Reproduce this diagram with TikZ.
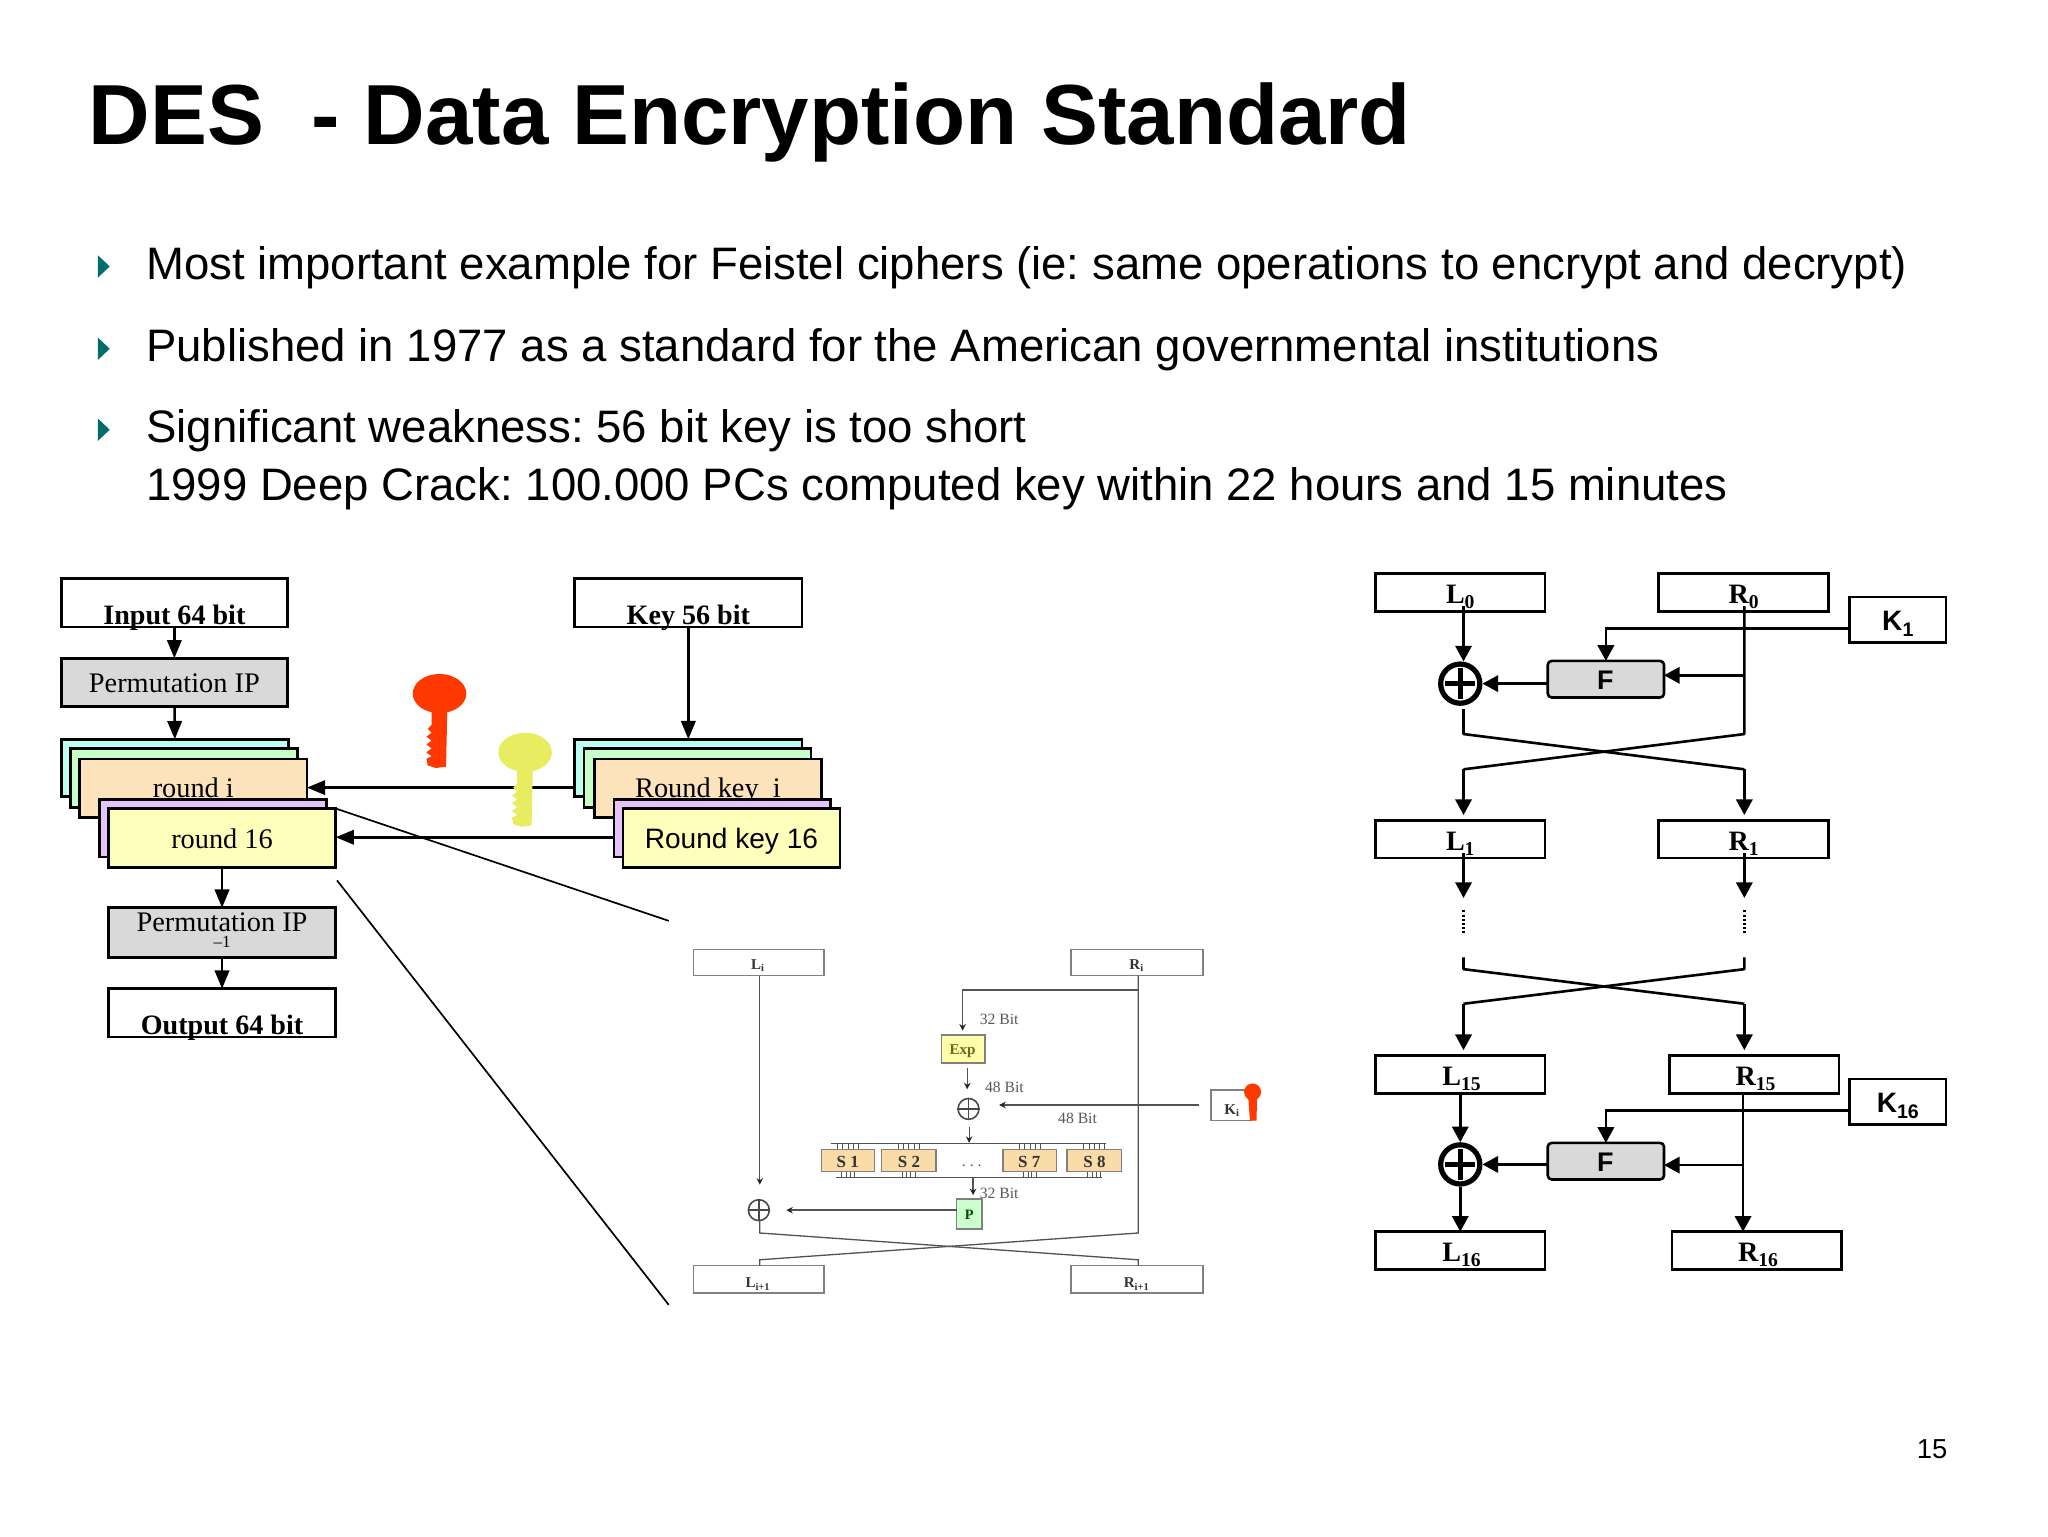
\documentclass[tikz,border=0pt]{standalone}
\usepackage{fontspec}
\usetikzlibrary{arrows.meta,calc}
\setmainfont{Liberation Sans}
\newfontfamily\tms{Liberation Serif}
\newcommand\fz[1]{\fontsize{#1}{#1}\selectfont}
\newcommand\sbs[3]{\raisebox{-#2pt}{\fz{#1}#3}}
% \dbox{name}{x1}{y1}{x2}{y2}{style}
\newcommand\dbox[6]{\node[bx,#6,minimum width={(#4-#2)*1pt},minimum height={(#5-#3)*1pt}] (#1) at ({(#2+#4)/2},{(#3+#5)/2}) {};}
% \dtxt{name}{x}{y}{style}{text}  (x centre, y baseline)
\newcommand\dtxt[5]{\node[tx,#4] (#1) at (#2,#3) {#5};}
% key: centre, colour
\newcommand\dkey[3]{\begin{scope}[shift={(#1,#2)}]
\fill[#3] (0,0) ellipse [x radius=20.5,y radius=15];
\fill[#3] (6,10) -- (5,56) -- (-3,57) -- (-9,55) -- (-10,50) -- (-6,48) -- (-10,45) -- (-6,42) -- (-10,39) -- (-6,36) -- (-10,33) -- (-6,30) -- (-9,27) -- (-6,24) -- (-6,10) -- cycle;
\end{scope}}
\newcommand\bul[1]{\fill[teal!85!black] (75,#1-8.5) -- (84,#1) -- (75,#1+8.5) -- cycle;}
\definecolor{cy}{HTML}{BCFFF0}\definecolor{gn}{HTML}{C8FFC8}\definecolor{og}{HTML}{FCE3BC}
\definecolor{pu}{HTML}{E4C4FA}\definecolor{ye}{HTML}{FFFFBC}\definecolor{gy}{HTML}{D9D9D9}
\definecolor{mg}{HTML}{808080}\definecolor{sb}{HTML}{F9DCA8}
\definecolor{kr}{HTML}{FF3800}\definecolor{ky}{HTML}{E8EC60}
\tikzset{
 x=1pt,y=-1pt,
 bx/.style={draw=black,line width=2pt,inner sep=0pt,outer sep=0pt,rectangle,fill=white},
 tx/.style={inner sep=0pt,outer sep=0pt,anchor=base,text=black},
 ser/.style={font=\tms\fz{21.7}},
 serb/.style={font=\tms\bfseries\fz{21.5}},
 sanb/.style={font=\bfseries\fz{20.6}},
 sbold/.style={font=\tms\bfseries\fz{21.5}},
 a1/.style={line width=2pt,-{Triangle[length=14pt,width=11pt]}},
 a2/.style={line width=2pt,-{Triangle[length=12pt,width=12.5pt]}},
 pl/.style={line width=2pt},
 zm/.style={line width=1.3pt},
 mb/.style={draw=mg,line width=1.1pt,fill=white},
 ml/.style={draw=black!68,line width=1pt},
 ma/.style={draw=black!68,line width=1pt,-{Stealth[length=5pt,width=5pt,black!85]}},
 mt/.style={font=\tms\fz{12},text=black!65},
 mtb/.style={font=\tms\bfseries\fz{11.5},text=black!80},
 st/.style={font=\tms\bfseries\fz{13},text=black!80},
}
\begin{document}
\frenchspacing
\begin{tikzpicture}
\useasboundingbox (0,0) rectangle (1568,1176);
\fill[white] (0,0) rectangle (1568,1176);
% title & text
\node[tx,anchor=base west,font=\bfseries\fz{65.3}] (title) at (68,110.5) {DES\ \ - Data Encryption Standard};
\bul{204}\bul{267}\bul{329}
\node[tx,anchor=base west,font=\fz{34.85}] (b1) at (112,214) {Most important example for Feistel ciphers (ie: same operations to encrypt and decrypt)};
\node[tx,anchor=base west,font=\fz{34.85}] (b2) at (112,276.5) {Published in 1977 as a standard for the American governmental institutions};
\node[tx,anchor=base west,font=\fz{34.85}] (b3) at (112,339) {Significant weakness: 56 bit key is too short};
\node[tx,anchor=base west,font=\fz{34.85}] (b4) at (112,383) {1999 Deep Crack: 100.000 PCs computed key within 22 hours and 15 minutes};
\node[tx,anchor=base east,font=\fz{21}] (pg) at (1491,1117) {15};
% ---- left diagram
\dbox{inp}{47}{443}{220}{480}{}
\dbox{perm}{47}{504}{220}{541}{fill=gy}
\dbox{ci}{47}{566}{221}{610}{fill=cy}
\dbox{gi}{54}{573}{228}{618}{fill=gn}
\dbox{ri}{61}{581}{235}{626}{fill=og}
\dtxt{rit}{148}{610.5}{ser}{round i}
\dbox{pi}{76}{612}{250}{656}{fill=pu}
\dbox{r16}{83}{619}{257}{664}{fill=ye}
\dtxt{r16t}{170}{649.5}{ser}{round 16}
\dbox{permi}{83}{695}{257}{733}{fill=gy}
\dbox{out}{83}{757}{257}{794}{}
\dtxt{inpt}{133.5}{478}{serb}{Input 64 bit}
\dtxt{permt}{133.5}{530.5}{ser}{Permutation IP}
\dtxt{permit}{170}{713}{ser}{Permutation IP}
\dtxt{permis}{170}{725.5}{font=\tms\fz{13}}{\textendash1}
\dtxt{outt}{170}{792}{serb}{Output 64 bit}
\dbox{key}{440}{443}{614}{480}{}
\dbox{ck}{440}{566}{614}{610}{fill=cy}
\dbox{gk}{447}{573}{621}{618}{fill=gn}
\dbox{rk}{455}{581}{629}{626}{fill=og}
\dtxt{rkt}{542}{610.5}{ser}{Round key\ \ i}
\dbox{pk}{470}{612}{636}{656}{fill=pu}
\dbox{k16}{477}{619}{643}{664}{fill=ye}
\dtxt{k16t}{560}{649.5}{font=\fz{21.5}}{Round key 16}
\dtxt{keyt}{527}{478}{serb}{Key 56 bit}
\draw[a1] (inp) -- (perm);
\draw[a1] (perm) -- (ci);
\draw[a1] (r16) -- (permi);
\draw[a1] (permi) -- (out);
\draw[a1] (key) -- (ck);
\draw[a1] (ck.west |- 0,603) -- (ri.east |- 0,603);
\draw[a1] (pk.west |- 0,641) -- (r16.east |- 0,641);
\dkey{336.5}{531}{kr}
\dkey{402}{576}{ky}
\coordinate (z1) at (512,705);\coordinate (z2) at (512,999);\coordinate (z0) at (258,674);
\draw[zm] (r16.north east) -- (z1);
\draw[zm] (z0) -- (z2);
% ---- middle diagram
\dbox{Li}{531}{727}{631}{747}{mb}
\dbox{Ri}{820}{727}{921}{747}{mb}
\dbox{Lj}{531}{969}{631}{990}{mb}
\dbox{Rj}{820}{969}{921}{990}{mb}
\dtxt{Lit}{580}{742}{mtb}{L\sbs{8}{2}{i}}
\dtxt{Rit}{870}{742}{mtb}{R\sbs{8}{2}{i}}
\dtxt{Ljt}{580}{986}{mtb}{L\sbs{8}{2}{i+1}}
\dtxt{Rjt}{870}{986}{mtb}{R\sbs{8}{2}{i+1}}
\dbox{Exp}{721}{792.5}{754}{814}{mb,fill=ye!90!yellow}
\dtxt{Expt}{737}{807}{font=\tms\bfseries\fz{11.5},text=olive!70!black}{Exp}
\dbox{Pb}{732.5}{918}{752}{941}{mb,fill=green!20}
\dtxt{Pt}{742}{934}{font=\tms\bfseries\fz{11},text=green!30!black}{P}
\dbox{S1}{629}{880}{669.5}{897}{mb,fill=sb}
\dbox{S2}{675}{880}{716.5}{897}{mb,fill=sb}
\dbox{S7}{768}{880}{809}{897}{mb,fill=sb}
\dbox{S8}{817}{880}{858.5}{897}{mb,fill=sb}
\dtxt{S1t}{649}{894}{st}{S 1}
\dtxt{S2t}{696}{894}{st}{S 2}
\dtxt{S7t}{788}{894}{st}{S 7}
\dtxt{S8t}{838}{894}{st}{S 8}
\dtxt{dots}{744}{893}{mt}{. . .}
\foreach \a in {S1,S2,S7,S8}{
 \foreach \d in {-8,-4,0,4,8}{\draw[ml,line width=.6pt] ($(\a.north)+(\d,-4.5)$) -- ($(\a.north)+(\d,0)$);}
 \foreach \d in {-5,-1.5,1.5,5}{\draw[ml,line width=.6pt] ($(\a.south)+(\d,0)$) -- ($(\a.south)+(\d,4.5)$);}
}
\coordinate (bt) at (742,875.6);\coordinate (bb) at (745,901.5);
\draw[ml] (636,875.6) -- (847,875.6);
\draw[ml] (640,901.5) -- (844,901.5);
\node[draw=black!72,line width=1.2pt,circle,minimum size=16pt,inner sep=0pt] (xa) at (741.5,849) {};
\node[draw=black!72,line width=1.2pt,circle,minimum size=16pt,inner sep=0pt] (xb) at (581,926.5) {};
\foreach \a in {xa,xb}{\draw[black!72,line width=1.1pt] (\a.north) -- (\a.south) (\a.west) -- (\a.east);}
\dbox{Ki}{927}{834.5}{958}{858}{mb}
\dtxt{Kit}{943}{853}{mtb}{K\sbs{8}{2}{i}}
\fill[kr] (959,836) circle [radius=6.5];
\fill[kr] (955.5,838) -- (962.5,838) -- (962,858) -- (957,858) -- cycle;
\coordinate (rm) at (871.5,944);\coordinate (lm) at (581.7,944);\coordinate (rl) at (871.5,964.5);\coordinate (ll) at (581.7,964.5);
\draw[ma] (Li.south -| lm) -- (581.7,907);
\draw[ml] (Ri.south -| rm) -- (rm) -- (ll) -- (Lj.north -| ll);
\draw[ml] (581.7,935) -- (lm) -- (rl) -- (Rj.north -| rl);
\draw[ma] (871.5,758) -- (737,758) -- (737,789);
\draw[ma] (740.5,818) -- (740.5,834);
\draw[ma] (918,846) -- (765,846);
\draw[ma] (742,863) -- (742,875);
\draw[ma] (bb) -- (745,915);
\draw[ma] (Pb.west |- 0,926.5) -- (602,926.5);
\dtxt{m1}{765}{784.5}{mt}{32 Bit}
\dtxt{m2}{769}{836.5}{mt}{48 Bit}
\dtxt{m3}{825}{860.5}{mt}{48 Bit}
\dtxt{m4}{765}{917.5}{mt}{32 Bit}
% ---- right diagram
\coordinate (lc) at (1120.5,0);\coordinate (rc) at (1335.5,0);
\dbox{L0}{1053}{439}{1183}{468}{}
\dbox{R0}{1270}{439}{1400}{468}{}
\dbox{K1}{1416}{457}{1490}{492}{}
\dbox{L1}{1053}{628}{1183}{657}{}
\dbox{R1}{1270}{628}{1400}{657}{}
\dbox{L15}{1053}{808}{1183}{837}{}
\dbox{R15}{1278}{808}{1408}{837}{}
\dbox{K16}{1416}{826}{1490}{861}{}
\dbox{L16}{1053}{943}{1183}{972}{}
\dbox{R16}{1280}{943}{1410}{972}{}
\dbox{F1}{1185}{506}{1274}{534}{fill=gy,rounded corners=3pt}
\dbox{F2}{1185}{875}{1274}{903}{fill=gy,rounded corners=3pt}
\dtxt{L0t}{1118}{462}{sbold}{L\sbs{15}{4}{0}}
\dtxt{R0t}{1335}{462}{sbold}{R\sbs{15}{4}{0}}
\dtxt{L1t}{1118}{651}{sbold}{L\sbs{15}{4}{1}}
\dtxt{R1t}{1335}{651}{sbold}{R\sbs{15}{4}{1}}
\dtxt{L15t}{1119}{831}{sbold}{L\sbs{15}{4}{15}}
\dtxt{R15t}{1344}{831}{sbold}{R\sbs{15}{4}{15}}
\dtxt{L16t}{1119}{966}{sbold}{L\sbs{15}{4}{16}}
\dtxt{R16t}{1346}{966}{sbold}{R\sbs{15}{4}{16}}
\dtxt{K1t}{1453}{483}{font=\bfseries\fz{21.5}}{K\sbs{15}{4}{1}}
\dtxt{K16t}{1453}{852}{font=\bfseries\fz{21.5}}{K\sbs{15}{4}{16}}
\dtxt{F1t}{1229}{528}{sanb}{F}
\dtxt{F2t}{1229}{897}{sanb}{F}
\node[draw=black,line width=4pt,circle,minimum size=30pt,inner sep=0pt] (x1) at (1118,523.4) {};
\node[draw=black,line width=4pt,circle,minimum size=30pt,inner sep=0pt] (x2) at (1118,891.5) {};
\foreach \a in {x1,x2}{\draw[line width=3.5pt] ($(\a.center)+(-11.5,0)$) -- ($(\a.center)+(11.5,0)$) ($(\a.center)+(0,-12)$) -- ($(\a.center)+(0,12)$);}
% round 1
\draw[a2] ($(L0.south -| lc)+(0,-4)$) -- (x1.north -| lc);
\draw[a2] (F1.west |- x1) -- (x1.east);
\draw[a2] (K1.west |- 0,481) -- (F1.north |- 0,481) -- (F1.north);
\draw[a2] (rc |- 0,517) -- (F1.east |- 0,517);
\coordinate (c1) at (1120.5,562);\coordinate (c2) at (1335.5,562);\coordinate (c3) at (1120.5,589);\coordinate (c4) at (1335.5,589);
\draw[pl,line join=round] ($(R0.south -| rc)+(0,-4)$) -- (c2) -- (c3);
\draw[pl,line join=round] (1120.5,543) -- (c1) -- (c4);
\draw[a2] (c3) -- ($(L1.north -| lc)+(0,-4)$);
\draw[a2] (c4) -- ($(R1.north -| rc)+(0,-4)$);
\draw[a2] ($(L1.south -| lc)+(0,-4)$) -- (lc |- 0,687.5);
\draw[a2] ($(R1.south -| rc)+(0,-4)$) -- (rc |- 0,687.5);
\draw[line width=2pt,dash pattern=on 1.5pt off 1.7pt] (lc |- 0,697) -- (lc |- 0,715);
\draw[line width=2pt,dash pattern=on 1.5pt off 1.7pt] (rc |- 0,697) -- (rc |- 0,715);
\coordinate (d1) at (1120.5,742);\coordinate (d2) at (1335.5,742);\coordinate (d3) at (1120.5,768.5);\coordinate (d4) at (1335.5,768.5);
\draw[pl,line join=round] (lc |- 0,733) -- (d1) -- (d4);
\draw[pl,line join=round] (rc |- 0,733) -- (d2) -- (d3);
\draw[a2] (d3) -- ($(L15.north -| lc)+(0,-4)$);
\draw[a2] (d4) -- ($(R15.north -| rc)+(0,-4)$);
% round 16
\coordinate (lc2) at (1118,0);\coordinate (rc2) at (1334.5,0);
\draw[a2] (L15.south -| lc2) -- (x2.north);
\draw[a2] (x2.south) -- (L16.north -| lc2);
\draw[a2] (F2.west |- x2) -- (x2.east);
\draw[a2] (R15.south -| rc2) -- (R16.north -| rc2);
\draw[a2] (K16.west |- 0,850) -- (F2.north |- 0,850) -- (F2.north);
\draw[a2] (rc2 |- 0,892) -- (F2.east |- 0,892);
\end{tikzpicture}
\end{document}
